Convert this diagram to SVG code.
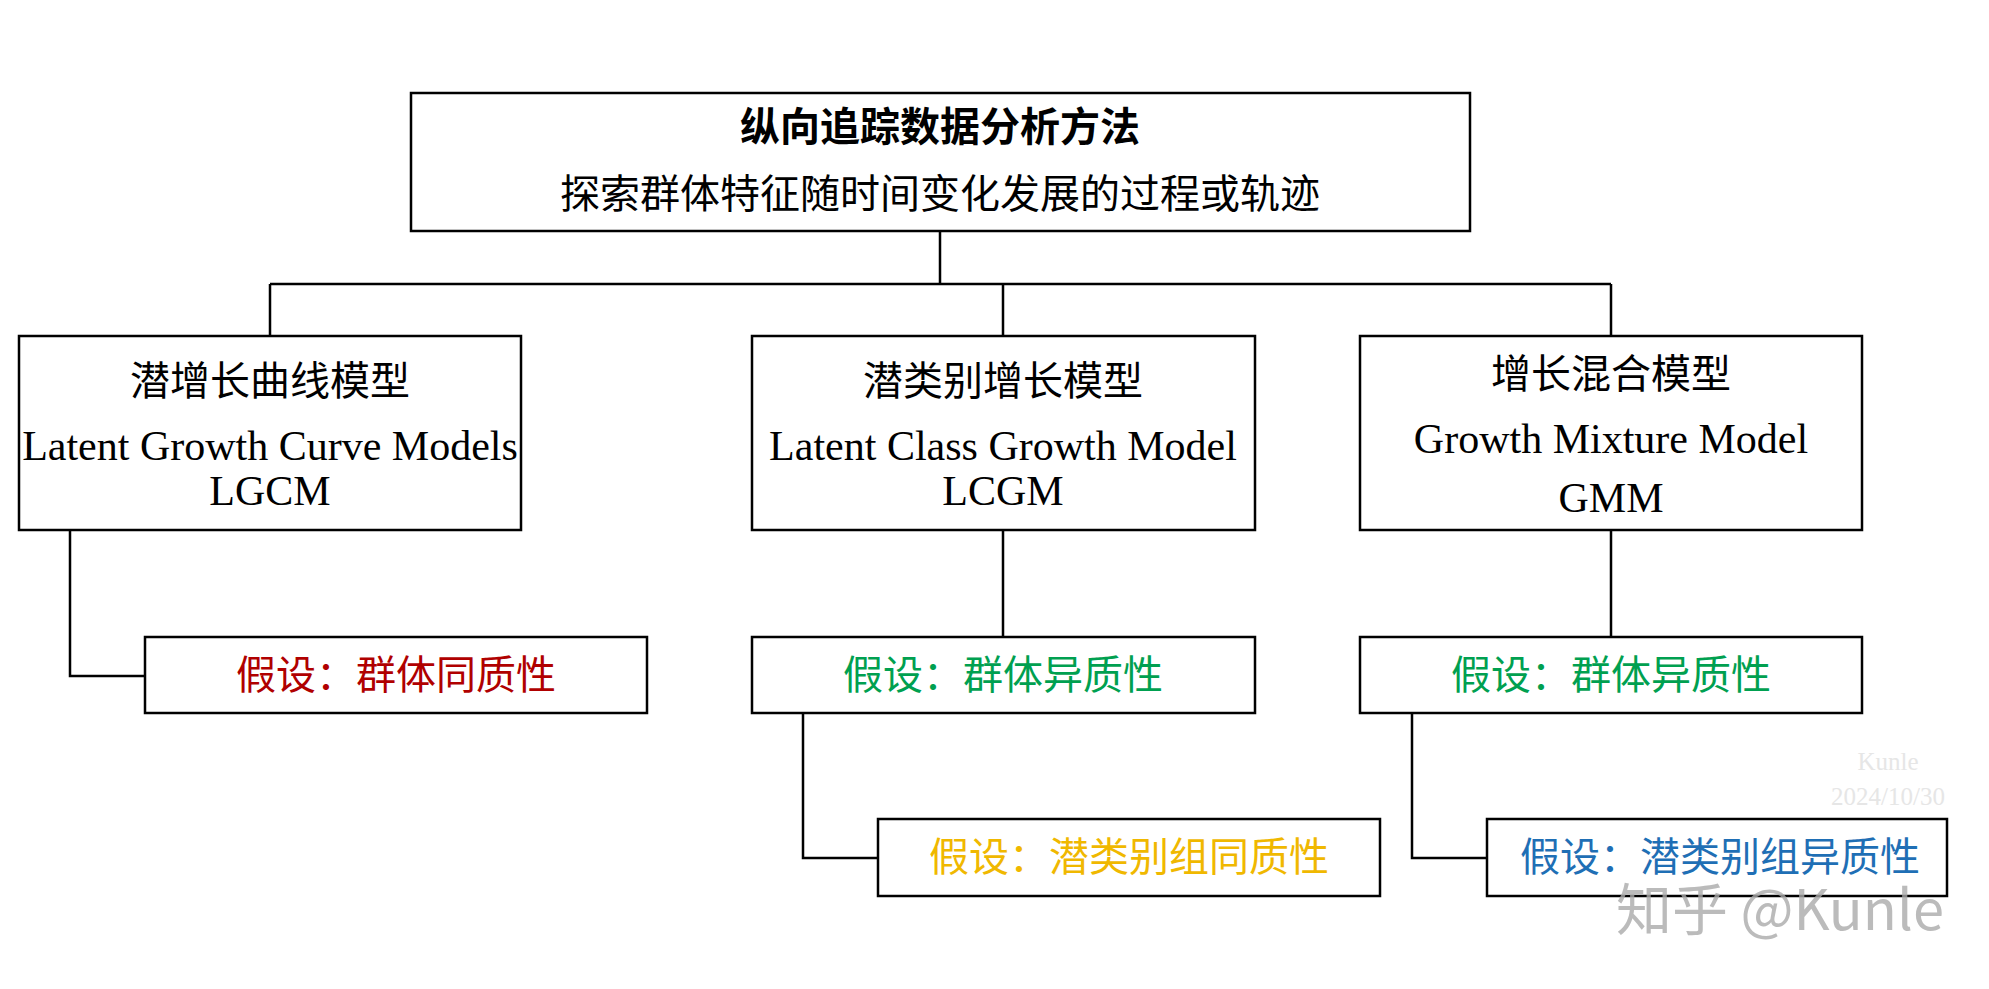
<svg xmlns="http://www.w3.org/2000/svg" width="1989" height="989" viewBox="0 0 1989 989">
<style>
.b{fill:#fff;stroke:#000;stroke-width:2.5}
.t{font-family:"Liberation Serif","Noto Sans CJK SC",serif;font-size:40px;text-anchor:middle;fill:#000}
.e{font-size:42px}
.l{fill:none;stroke:#000;stroke-width:2.5}
.w{font-family:"Liberation Serif",serif;font-size:25px;text-anchor:middle;fill:#e6e6e6}
</style>
<rect width="1989" height="989" fill="#fff"/>
<g id="connectors">
<path class="l" d="M940 231V284M270 284H1611M270 284V336M1003 284V336M1611 284V336"/>
<path class="l" d="M70 530V676H145M1003 530V637M1611 530V637M803 713V858H878M1412 713V858H1487"/>
</g>
<g id="root"><rect class="b" x="411" y="93" width="1059" height="138"/>
<text class="t" x="940" y="141" font-weight="bold">纵向追踪数据分析方法</text>
<text class="t" x="940" y="208">探索群体特征随时间变化发展的过程或轨迹</text></g>
<g id="lgcm"><rect class="b" x="19" y="336" width="502" height="194"/>
<text class="t" x="270" y="395">潜增长曲线模型</text>
<text class="t e" x="270" y="460">Latent Growth Curve Models</text>
<text class="t e" x="270" y="505">LGCM</text></g>
<g id="lcgm"><rect class="b" x="752" y="336" width="503" height="194"/>
<text class="t" x="1003" y="395">潜类别增长模型</text>
<text class="t e" x="1003" y="460">Latent Class Growth Model</text>
<text class="t e" x="1003" y="505">LCGM</text></g>
<g id="gmm"><rect class="b" x="1360" y="336" width="502" height="194"/>
<text class="t" x="1611" y="388">增长混合模型</text>
<text class="t e" x="1611" y="453">Growth Mixture Model</text>
<text class="t e" x="1611" y="512">GMM</text></g>
<g id="a1"><rect class="b" x="145" y="637" width="502" height="76"/>
<text class="t" x="396" y="689" style="fill:#b00000">假设：群体同质性</text></g>
<g id="a2"><rect class="b" x="752" y="637" width="503" height="76"/>
<text class="t" x="1003" y="689" style="fill:#00a050">假设：群体异质性</text></g>
<g id="a3"><rect class="b" x="1360" y="637" width="502" height="76"/>
<text class="t" x="1611" y="689" style="fill:#00a050">假设：群体异质性</text></g>
<g id="b2"><rect class="b" x="878" y="819" width="502" height="77"/>
<text class="t" x="1129" y="871" style="fill:#f0b800">假设：潜类别组同质性</text></g>
<g id="b3"><rect class="b" x="1487" y="819" width="460" height="77"/>
<text class="t" x="1720" y="871" style="fill:#1f6fb5">假设：潜类别组异质性</text></g>
<text class="w" x="1888" y="770">Kunle</text>
<text class="w" x="1888" y="805">2024/10/30</text>
<text x="1780" y="930" font-family="'Noto Sans CJK SC',sans-serif" font-size="56" text-anchor="middle" fill="#aaa" fill-opacity="0.8">知乎 @Kunle</text>
</svg>
